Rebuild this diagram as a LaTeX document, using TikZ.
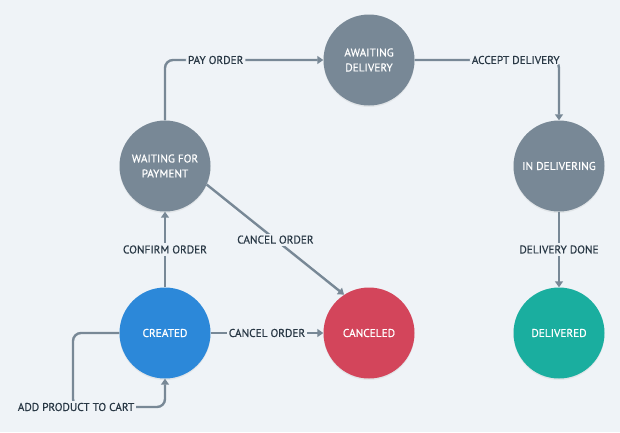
\documentclass[tikz,border=0pt]{standalone}
\usepackage{fontspec}
\setmainfont{PT Sans}[FakeBold=0.5]
\usetikzlibrary{arrows.meta,shadows}
\definecolor{bg}{HTML}{EFF3F7}
\definecolor{slate}{HTML}{788896}
\definecolor{blueS}{HTML}{2C88D9}
\definecolor{redS}{HTML}{D3455B}
\definecolor{tealS}{HTML}{1AAE9F}
\definecolor{ink}{HTML}{293845}
\tikzset{
  state/.style={circle, minimum size=91pt, inner sep=0pt, text=white, align=center,
    font=\fontsize{11.3}{15}\selectfont,
    drop shadow={opacity=0.12, shadow xshift=0pt, shadow yshift=-1.5pt}},
  lbl/.style={fill=bg, text=ink, inner sep=2pt, font=\fontsize{11.3}{13}\selectfont},
  conn/.style={draw=slate, line width=2.4pt, -{Triangle[length=6pt,width=8pt]}},
}
\begin{document}
\begin{tikzpicture}[x=1pt,y=-1pt]
\fill[bg] (0,0) rectangle (620,432);
\useasboundingbox (0,0) rectangle (620,432);
\node[state, fill=blueS] (created) at (165,333) {CREATED};
\node[state, fill=redS] (canceled) at (369,333) {CANCELED};
\node[state, fill=slate] (waiting) at (165,166) {WAITING FOR\\PAYMENT};
\node[state, fill=slate] (awaiting) at (369,60) {AWAITING\\DELIVERY};
\node[state, fill=slate] (indeliv) at (559,166) {IN DELIVERING};
\node[state, fill=tealS] (delivered) at (559,333) {DELIVERED};
\coordinate (loopA) at (73,407);

\draw[conn] (created) -- node[lbl]{CONFIRM ORDER} (waiting);
\draw[conn, rounded corners=8pt] (waiting.north) |- node[lbl, pos=0.66]{PAY ORDER} (awaiting.west);
\draw[conn, rounded corners=8pt] (awaiting.east) -| node[lbl, pos=0.35]{ACCEPT DELIVERY} (indeliv.north);
\draw[conn] (indeliv) -- node[lbl]{DELIVERY DONE} (delivered);
\draw[conn] (waiting.-24) -- node[lbl]{CANCEL ORDER} (canceled.123);
\draw[conn] (created) -- node[lbl]{CANCEL ORDER} (canceled);
\draw[conn, rounded corners=8pt] (created.west) -| (loopA) -| (created.south);
\node[lbl, xshift=3pt] (addlbl) at (loopA) {ADD PRODUCT TO CART};
\end{tikzpicture}
\end{document}
